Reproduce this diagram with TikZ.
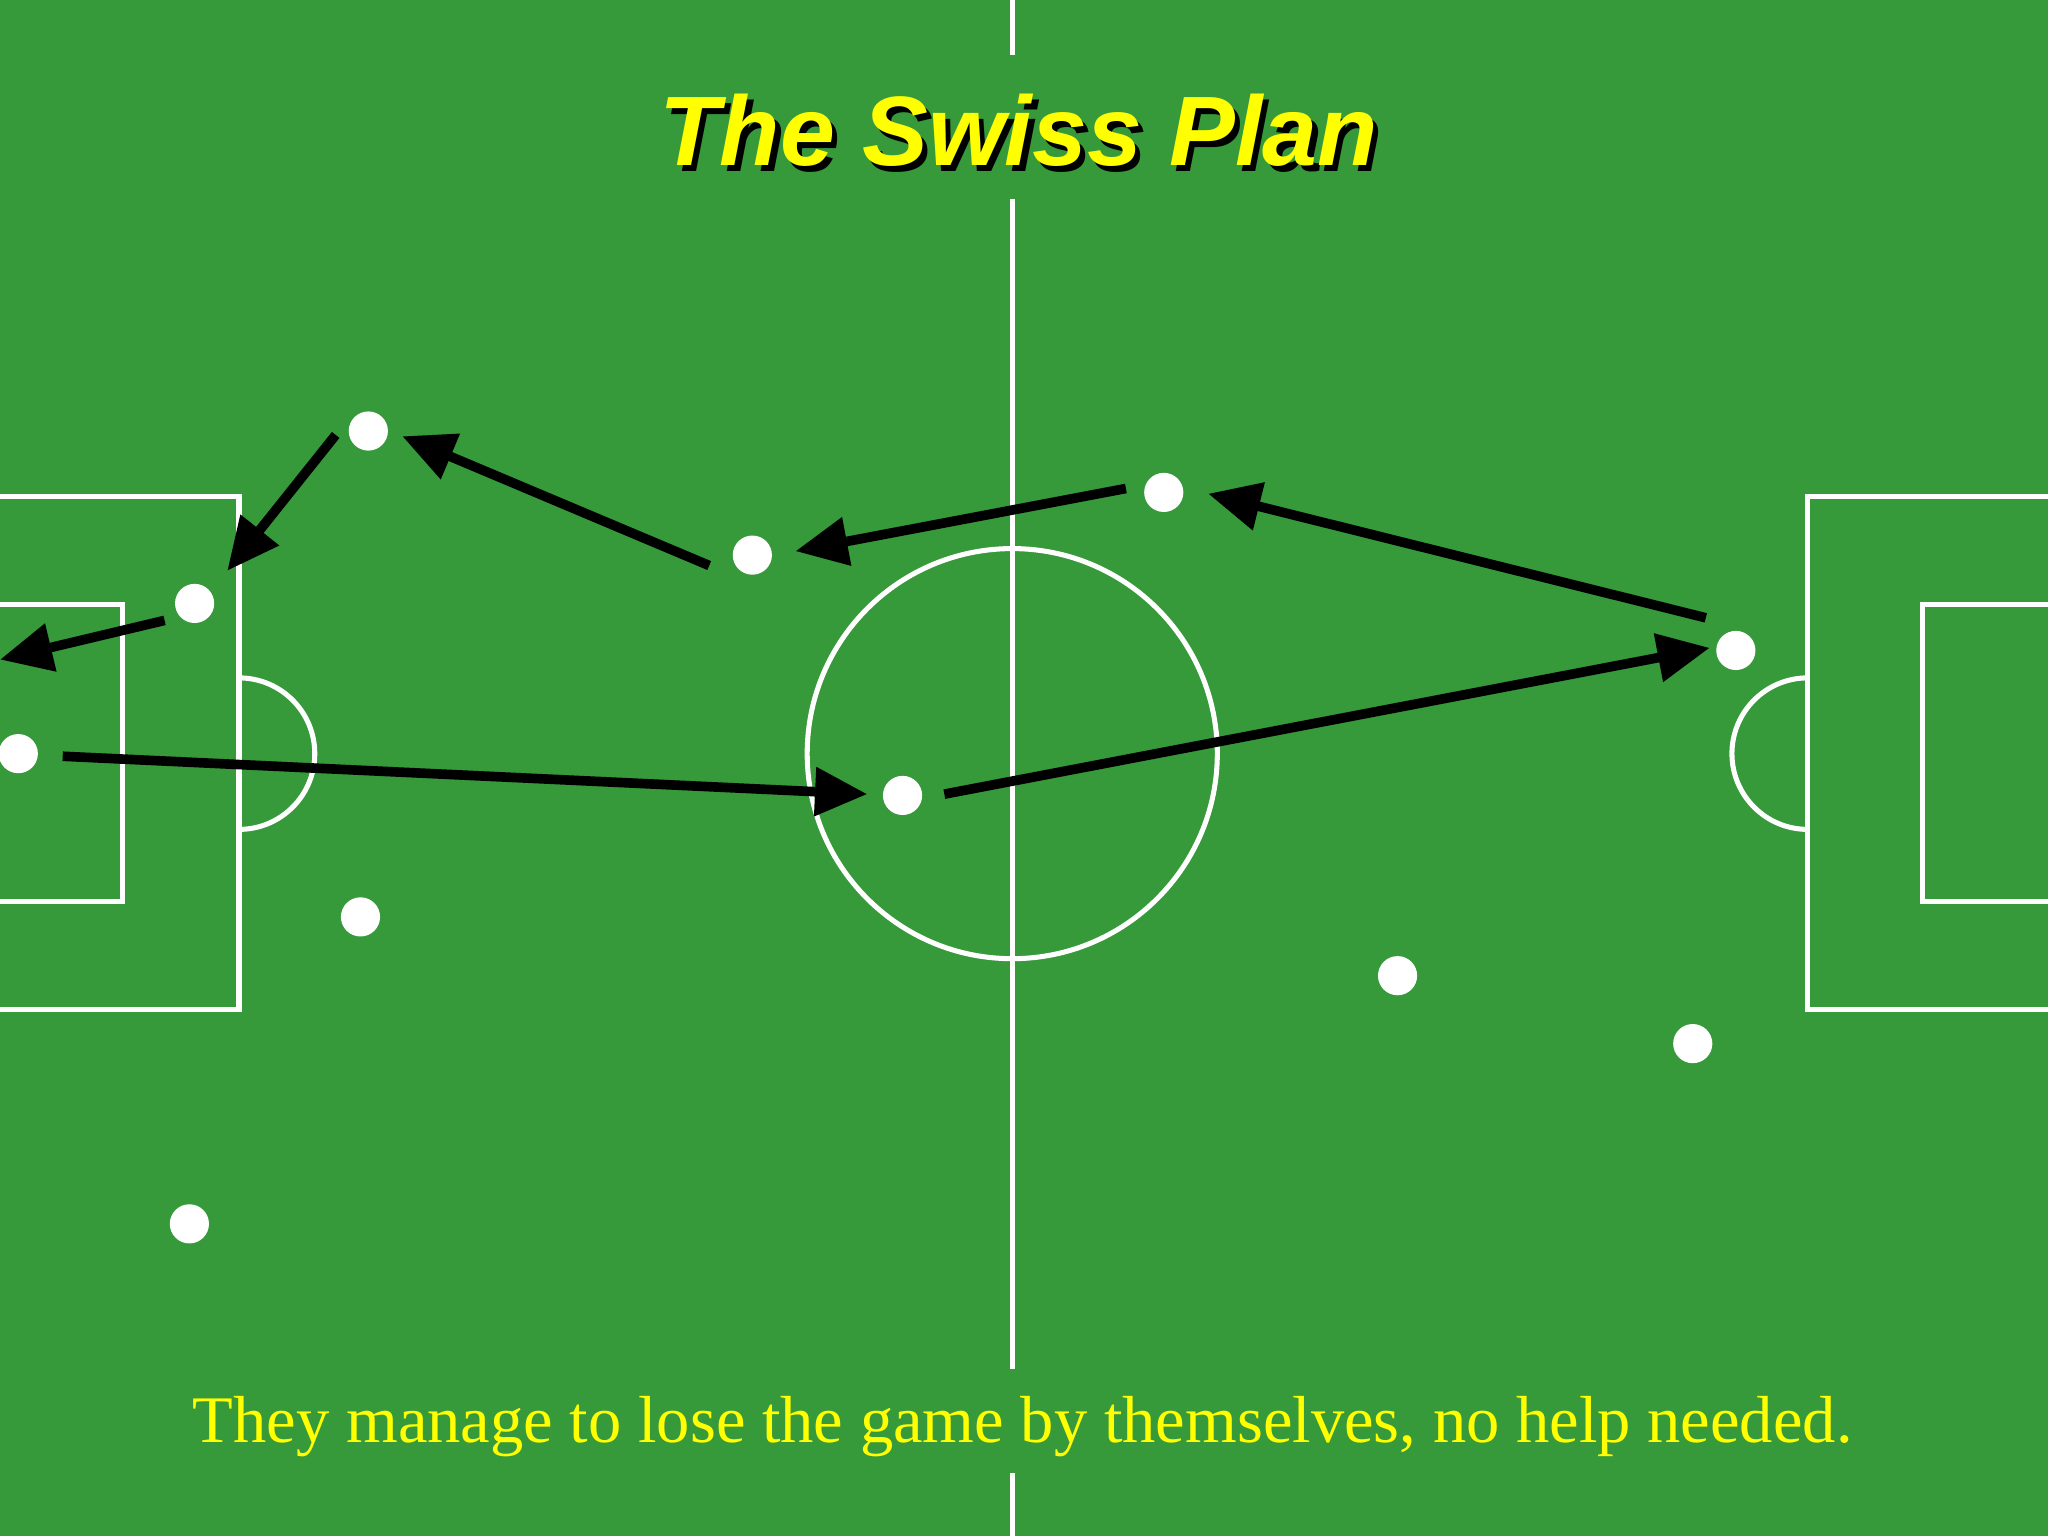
\documentclass[tikz,border=0pt]{standalone}
\usepackage{fontspec}
\setmainfont{Liberation Serif}
\newfontfamily\titlefont{Liberation Sans}
\usetikzlibrary{arrows.meta}
\definecolor{pitch}{HTML}{36993A}
\definecolor{yel}{HTML}{FFFF00}
\begin{document}
\begin{tikzpicture}[x=0.02cm,y=-0.02cm,
  line/.style={draw=white,line width=2.2pt},
  player/.style={circle,fill=white,minimum size=0.6cm,inner sep=0pt},
  pass/.style={line width=4.2pt,-{Triangle[length=0.8cm,width=0.72cm]}}]
\fill[pitch] (0,0) rectangle (1568,1176);
\useasboundingbox (0,0) rectangle (1568,1176);
% lines
\draw[line] (775,0) -- (775,42);
\draw[line] (775,152) -- (775,1048);
\draw[line] (775,1128) -- (775,1176);
\draw[line] (775,577) circle (157);
\draw[line] (0,380) -- (183,380) -- (183,773) -- (0,773);
\draw[line] (0,463) -- (94,463) -- (94,690) -- (0,690);
\draw[line] (183,519) arc (-90:90:58);
\draw[line] (1568,380) -- (1384,380) -- (1384,773) -- (1568,773);
\draw[line] (1568,463) -- (1472,463) -- (1472,690) -- (1568,690);
\draw[line] (1384,519) arc (270:90:58);
% players
\node[player] (p1) at (282,330) {};
\node[player] (p2) at (149,462) {};
\node[player] (p3) at (14,577) {};
\node[player] (p4) at (576,425) {};
\node[player] (p5) at (891,377) {};
\node[player] (p6) at (691,609) {};
\node[player] (p7) at (1329,498) {};
\node[player] (p8) at (276,702) {};
\node[player] (p9) at (145,937) {};
\node[player] (p10) at (1070,747) {};
\node[player] (p11) at (1296,799) {};
% pass ends
\coordinate (a1s) at (1306,473); \coordinate (a1e) at (925,378);
\coordinate (a2s) at (862,374); \coordinate (a2e) at (609,422);
\coordinate (a3s) at (543,433); \coordinate (a3e) at (308,334);
\coordinate (a4s) at (257,333); \coordinate (a4e) at (174,437);
\coordinate (a5s) at (126,475); \coordinate (a5e) at (0,505);
\coordinate (a6s) at (48,579); \coordinate (a6e) at (664,608);
\coordinate (a7s) at (723,608); \coordinate (a7e) at (1309,496);
\foreach \i in {1,...,7} \draw[pass] (a\i s) -- (a\i e);
% texts
\node[font=\titlefont\bfseries\itshape\fontsize{43}{48}\selectfont,text=black] at (784,104) {The Swiss Plan};
\node[font=\titlefont\bfseries\itshape\fontsize{43}{48}\selectfont,text=yel] (title) at (780,100) {The Swiss Plan};
\node[font=\fontsize{29}{34}\selectfont,text=yel] (caption) at (783,1092) {They manage to lose the game by themselves, no help needed.};
\end{tikzpicture}
\end{document}
